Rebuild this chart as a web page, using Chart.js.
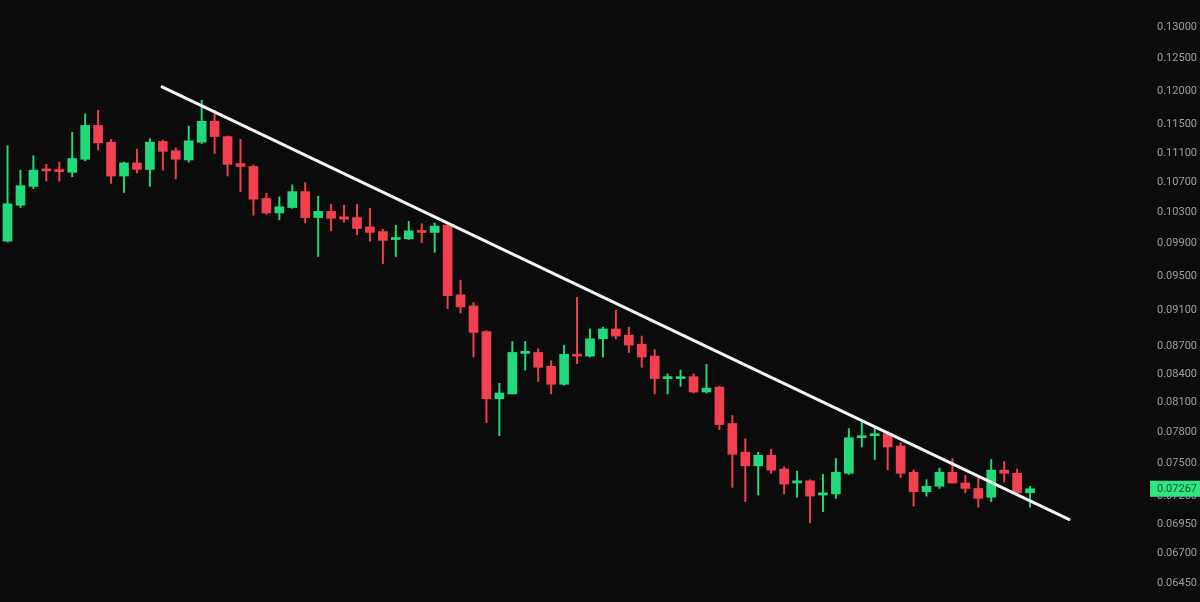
<!DOCTYPE html>
<html>
<head>
<meta charset="utf-8">
<script src="https://cdn.jsdelivr.net/npm/chart.js@4.4.1/dist/chart.umd.min.js"></script>
<style>
  html, body { margin: 0; padding: 0; background: #0b0b0c; }
  #wrap { width: 1200px; height: 602px; position: relative; }
</style>
</head>
<body>
<div id="wrap"><canvas id="chart"></canvas></div>
<script>
// candles (open / high / low / close)
const opens = [
  0.0993, 0.1039, 0.1064, 0.1087, 0.1086, 0.1083, 0.1101, 0.1149, 0.1125, 0.1078,
  0.1096, 0.1087, 0.1126, 0.1113, 0.1100, 0.1125, 0.1155, 0.1133, 0.1095, 0.1091,
  0.1048, 0.1029, 0.1036, 0.1057, 0.1023, 0.1031, 0.1024, 0.1023, 0.1011, 0.1005,
  0.0995, 0.0996, 0.1006, 0.1004, 0.1013, 0.0928, 0.0915, 0.0886, 0.0814, 0.0819,
  0.0862, 0.0863, 0.0848, 0.0829, 0.0861, 0.0859, 0.0878, 0.0889, 0.0882, 0.0872,
  0.0859, 0.0835, 0.0835, 0.0837, 0.0821, 0.0826, 0.0789, 0.0761, 0.0748, 0.0758,
  0.0745, 0.0732, 0.0734, 0.0721, 0.0722, 0.0741, 0.0775, 0.0777, 0.0779, 0.0767,
  0.0742, 0.0724, 0.0729, 0.0742, 0.0732, 0.0727, 0.0719, 0.0744, 0.0741, 0.0723,
];
const highs = [
  0.1120, 0.1086, 0.1106, 0.1094, 0.1097, 0.1139, 0.1166, 0.1171, 0.1129, 0.1097,
  0.1115, 0.1130, 0.1128, 0.1117, 0.1148, 0.1186, 0.1171, 0.1134, 0.1129, 0.1093,
  0.1055, 0.1050, 0.1066, 0.1069, 0.1051, 0.1040, 0.1039, 0.1040, 0.1035, 0.1008,
  0.1013, 0.1018, 0.1015, 0.1016, 0.1014, 0.0945, 0.0919, 0.0887, 0.0830, 0.0875,
  0.0875, 0.0867, 0.0854, 0.0871, 0.0925, 0.0889, 0.0891, 0.0910, 0.0891, 0.0881,
  0.0866, 0.0840, 0.0844, 0.0840, 0.0850, 0.0827, 0.0797, 0.0774, 0.0761, 0.0764,
  0.0747, 0.0743, 0.0735, 0.0740, 0.0755, 0.0784, 0.0790, 0.0785, 0.0781, 0.0770,
  0.0744, 0.0735, 0.0746, 0.0755, 0.0739, 0.0738, 0.0754, 0.0752, 0.0745, 0.0729,
];
const lows = [
  0.0992, 0.1036, 0.1061, 0.1071, 0.1071, 0.1077, 0.1099, 0.1114, 0.1068, 0.1056,
  0.1082, 0.1064, 0.1086, 0.1074, 0.1097, 0.1123, 0.1109, 0.1078, 0.1057, 0.1026,
  0.1027, 0.1020, 0.1035, 0.1016, 0.0974, 0.1006, 0.1017, 0.1001, 0.0993, 0.0965,
  0.0974, 0.0995, 0.0991, 0.0979, 0.0912, 0.0907, 0.0858, 0.0790, 0.0777, 0.0819,
  0.0844, 0.0832, 0.0819, 0.0828, 0.0851, 0.0858, 0.0858, 0.0878, 0.0863, 0.0847,
  0.0819, 0.0819, 0.0827, 0.0820, 0.0820, 0.0783, 0.0728, 0.0715, 0.0721, 0.0741,
  0.0722, 0.0719, 0.0696, 0.0706, 0.0718, 0.0740, 0.0766, 0.0754, 0.0744, 0.0737,
  0.0711, 0.0720, 0.0727, 0.0732, 0.0723, 0.0710, 0.0715, 0.0733, 0.0723, 0.0710,
];
const closes = [
  0.1041, 0.1065, 0.1086, 0.1085, 0.1084, 0.1102, 0.1149, 0.1124, 0.1078, 0.1096,
  0.1087, 0.1125, 0.1112, 0.1101, 0.1127, 0.1155, 0.1133, 0.1094, 0.1091, 0.1047,
  0.1029, 0.1037, 0.1057, 0.1023, 0.1031, 0.1022, 0.1021, 0.1009, 0.1004, 0.0994,
  0.0997, 0.1006, 0.1004, 0.1012, 0.0927, 0.0914, 0.0885, 0.0814, 0.0820, 0.0863,
  0.0864, 0.0847, 0.0829, 0.0861, 0.0859, 0.0878, 0.0889, 0.0881, 0.0871, 0.0858,
  0.0835, 0.0836, 0.0837, 0.0821, 0.0825, 0.0788, 0.0759, 0.0748, 0.0758, 0.0744,
  0.0731, 0.0734, 0.0720, 0.0723, 0.0742, 0.0775, 0.0777, 0.0779, 0.0766, 0.0741,
  0.0724, 0.0729, 0.0742, 0.0732, 0.0727, 0.0718, 0.0744, 0.0741, 0.0723, 0.07267,
];

// right-hand price ticks
const tickValues = [
  0.135, 0.130, 0.125, 0.120, 0.115, 0.111, 0.107, 0.103, 0.099, 0.095,
  0.091, 0.087, 0.084, 0.081, 0.078, 0.075, 0.072, 0.0695, 0.067, 0.0645,
];

// hand-drawn trend line: two anchors (candle index, price)
const trendX = [11.94, 82.0];
const trendY = [0.12064, 0.06992];

const lastPrice = closes[closes.length - 1];

const UP   = "#22d97b";
const DOWN = "#f2404e";

const candleColors = closes.map((c, i) => c >= opens[i] ? UP : DOWN);

const bgPlugin = {
  id: "bg",
  beforeDraw(chart) {
    const { ctx, width, height } = chart;
    ctx.save();
    ctx.fillStyle = "#0b0b0c";
    ctx.fillRect(0, 0, width, height);
    ctx.restore();
  },
};

const priceTag = {
  id: "priceTag",
  afterDraw(chart) {
    const { ctx } = chart;
    const y = chart.scales.y.getPixelForValue(lastPrice);
    ctx.save();
    ctx.fillStyle = "#2ee582";
    ctx.fillRect(1150, y - 8, 50, 16);
    ctx.fillStyle = "#0c5a2f";
    ctx.font = "11px Roboto, 'DejaVu Sans', sans-serif";
    ctx.textBaseline = "middle";
    ctx.textAlign = "left";
    ctx.fillText(lastPrice.toFixed(5), 1157, y + 0.5);
    ctx.restore();
  },
};

const idx = closes.map((_, i) => i);

new Chart(document.getElementById("chart"), {
  type: "bar",
  data: {
    datasets: [
      {
        type: "line",
        order: 0,
        data: trendX.map((x, i) => ({ x, y: trendY[i] })),
        borderColor: "#f4f4f4",
        borderWidth: 3,
        pointRadius: 0,
        tension: 0,
        borderCapStyle: "round",
      },
      {
        order: 1,
        grouped: false,
        data: idx.map(i => ({ x: i, y: [opens[i], closes[i]] })),
        backgroundColor: candleColors,
        barThickness: 9,
        minBarLength: 2,
        borderWidth: 0,
      },
      {
        order: 2,
        grouped: false,
        data: idx.map(i => ({ x: i, y: [lows[i], highs[i]] })),
        backgroundColor: candleColors,
        barThickness: 1.3,
        borderWidth: 0,
      },
    ],
  },
  options: {
    animation: false,
    responsive: true,
    maintainAspectRatio: false,
    layout: { padding: 0 },
    plugins: { legend: { display: false }, tooltip: { enabled: false } },
    scales: {
      x: {
        type: "linear",
        display: false,
        offset: false,
        min: -0.58,
        max: 87.88,
        grid: { display: false },
      },
      y: {
        type: "logarithmic",
        position: "right",
        min: 0.06312,
        max: 0.13459,
        grid: { display: false, drawTicks: false },
        border: { display: false },
        afterBuildTicks: scale => {
          scale.ticks = tickValues.map(v => ({ value: v }));
        },
        afterFit: scale => {
          scale.width = 55;
          scale.paddingTop = 0;
          scale.paddingBottom = 0;
        },
        ticks: {
          autoSkip: false,
          padding: 12,
          color: "#9b9ea3",
          font: { family: "Roboto, 'DejaVu Sans', sans-serif", size: 11 },
          callback: v => Number(v).toFixed(5),
        },
      },
    },
  },
  plugins: [bgPlugin, priceTag],
});
</script>
</body>
</html>
